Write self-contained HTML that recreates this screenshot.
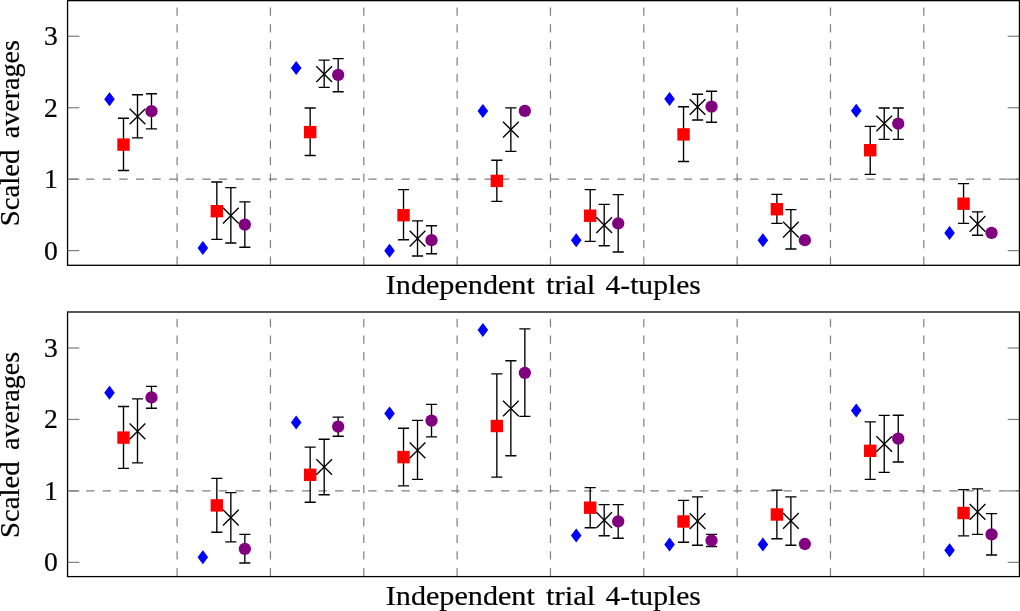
<!DOCTYPE html>
<html><head><meta charset="utf-8"><title>Scaled averages</title>
<style>
html,body{margin:0;padding:0;background:#fff;}
svg{display:block}
.t{font-family:"Liberation Serif",serif;font-size:27.67px;fill:#000;stroke:#000;stroke-width:0.2px}
</style></head><body>
<svg width="1020" height="611" viewBox="0 0 1020 611">
<rect width="1020" height="611" fill="#fff"/>
<g>
<line x1="177.1" y1="7.55" x2="177.1" y2="265.3" stroke="#7f7f7f" stroke-width="1.2" stroke-dasharray="8.3 8.3"/>
<line x1="270.44" y1="7.55" x2="270.44" y2="265.3" stroke="#7f7f7f" stroke-width="1.2" stroke-dasharray="8.3 8.3"/>
<line x1="363.78" y1="7.55" x2="363.78" y2="265.3" stroke="#7f7f7f" stroke-width="1.2" stroke-dasharray="8.3 8.3"/>
<line x1="457.12" y1="7.55" x2="457.12" y2="265.3" stroke="#7f7f7f" stroke-width="1.2" stroke-dasharray="8.3 8.3"/>
<line x1="550.46" y1="7.55" x2="550.46" y2="265.3" stroke="#7f7f7f" stroke-width="1.2" stroke-dasharray="8.3 8.3"/>
<line x1="643.8" y1="7.55" x2="643.8" y2="265.3" stroke="#7f7f7f" stroke-width="1.2" stroke-dasharray="8.3 8.3"/>
<line x1="737.14" y1="7.55" x2="737.14" y2="265.3" stroke="#7f7f7f" stroke-width="1.2" stroke-dasharray="8.3 8.3"/>
<line x1="830.48" y1="7.55" x2="830.48" y2="265.3" stroke="#7f7f7f" stroke-width="1.2" stroke-dasharray="8.3 8.3"/>
<line x1="923.82" y1="7.55" x2="923.82" y2="265.3" stroke="#7f7f7f" stroke-width="1.2" stroke-dasharray="8.3 8.3"/>
<line x1="69.5" y1="179.17" x2="1019.45" y2="179.17" stroke="#7f7f7f" stroke-width="1.2" stroke-dasharray="8.3 8.3"/>
<line x1="67.55" y1="250.62" x2="79.35" y2="250.62" stroke="#7f7f7f" stroke-width="1.2"/>
<line x1="1019.45" y1="250.62" x2="1007.65" y2="250.62" stroke="#7f7f7f" stroke-width="1.2"/>
<line x1="67.55" y1="179.17" x2="79.35" y2="179.17" stroke="#7f7f7f" stroke-width="1.2"/>
<line x1="1019.45" y1="179.17" x2="1007.65" y2="179.17" stroke="#7f7f7f" stroke-width="1.2"/>
<line x1="67.55" y1="107.72" x2="79.35" y2="107.72" stroke="#7f7f7f" stroke-width="1.2"/>
<line x1="1019.45" y1="107.72" x2="1007.65" y2="107.72" stroke="#7f7f7f" stroke-width="1.2"/>
<line x1="67.55" y1="36.27" x2="79.35" y2="36.27" stroke="#7f7f7f" stroke-width="1.2"/>
<line x1="1019.45" y1="36.27" x2="1007.65" y2="36.27" stroke="#7f7f7f" stroke-width="1.2"/>
<path d="M123.5 118.2V170.5M117.95 118.2h11.1M117.95 170.5h11.1" stroke="#000" stroke-width="1.35" fill="none"/>
<path d="M137.5 94.7V137.8M131.95 94.7h11.1M131.95 137.8h11.1" stroke="#000" stroke-width="1.35" fill="none"/>
<path d="M151.5 93.7V128.8M145.95 93.7h11.1M145.95 128.8h11.1" stroke="#000" stroke-width="1.35" fill="none"/>
<path d="M109.5 93.1l4.6 6.1l-4.6 6.1l-4.6 -6.1z" fill="#0000ff" stroke="#0000ff" stroke-width="1.1" stroke-linejoin="miter"/>
<rect x="117.3" y="138.4" width="12.4" height="12.4" fill="#ff0000"/>
<path d="M129.65 108.65L145.35 124.35M129.65 124.35L145.35 108.65" stroke="#000" stroke-width="1.35" fill="none"/>
<circle cx="151.5" cy="111.2" r="6.15" fill="#800080"/>
<path d="M216.84 182V239.4M211.29 182h11.1M211.29 239.4h11.1" stroke="#000" stroke-width="1.35" fill="none"/>
<path d="M230.84 187.6V243M225.29 187.6h11.1M225.29 243h11.1" stroke="#000" stroke-width="1.35" fill="none"/>
<path d="M244.84 201.9V247.2M239.29 201.9h11.1M239.29 247.2h11.1" stroke="#000" stroke-width="1.35" fill="none"/>
<path d="M202.84 241.9l4.6 6.1l-4.6 6.1l-4.6 -6.1z" fill="#0000ff" stroke="#0000ff" stroke-width="1.1" stroke-linejoin="miter"/>
<rect x="210.64" y="205" width="12.4" height="12.4" fill="#ff0000"/>
<path d="M222.99 207.75L238.69 223.45M222.99 223.45L238.69 207.75" stroke="#000" stroke-width="1.35" fill="none"/>
<circle cx="244.84" cy="224.6" r="6.15" fill="#800080"/>
<path d="M310.18 108V155.5M304.63 108h11.1M304.63 155.5h11.1" stroke="#000" stroke-width="1.35" fill="none"/>
<path d="M324.18 60.1V87.4M318.63 60.1h11.1M318.63 87.4h11.1" stroke="#000" stroke-width="1.35" fill="none"/>
<path d="M338.18 58.6V91.7M332.63 58.6h11.1M332.63 91.7h11.1" stroke="#000" stroke-width="1.35" fill="none"/>
<path d="M296.18 61.8l4.6 6.1l-4.6 6.1l-4.6 -6.1z" fill="#0000ff" stroke="#0000ff" stroke-width="1.1" stroke-linejoin="miter"/>
<rect x="303.98" y="125.9" width="12.4" height="12.4" fill="#ff0000"/>
<path d="M316.33 66.25L332.03 81.95M316.33 81.95L332.03 66.25" stroke="#000" stroke-width="1.35" fill="none"/>
<circle cx="338.18" cy="74.9" r="6.15" fill="#800080"/>
<path d="M403.52 189.6V239.7M397.97 189.6h11.1M397.97 239.7h11.1" stroke="#000" stroke-width="1.35" fill="none"/>
<path d="M417.52 220.9V256M411.97 220.9h11.1M411.97 256h11.1" stroke="#000" stroke-width="1.35" fill="none"/>
<path d="M431.52 225.7V253.7M425.97 225.7h11.1M425.97 253.7h11.1" stroke="#000" stroke-width="1.35" fill="none"/>
<path d="M389.52 244.6l4.6 6.1l-4.6 6.1l-4.6 -6.1z" fill="#0000ff" stroke="#0000ff" stroke-width="1.1" stroke-linejoin="miter"/>
<rect x="397.32" y="209" width="12.4" height="12.4" fill="#ff0000"/>
<path d="M409.67 230.85L425.37 246.55M409.67 246.55L425.37 230.85" stroke="#000" stroke-width="1.35" fill="none"/>
<circle cx="431.52" cy="240.2" r="6.15" fill="#800080"/>
<path d="M496.86 160.2V201.4M491.31 160.2h11.1M491.31 201.4h11.1" stroke="#000" stroke-width="1.35" fill="none"/>
<path d="M510.86 107.9V151.3M505.31 107.9h11.1M505.31 151.3h11.1" stroke="#000" stroke-width="1.35" fill="none"/>
<path d="M482.86 104.8l4.6 6.1l-4.6 6.1l-4.6 -6.1z" fill="#0000ff" stroke="#0000ff" stroke-width="1.1" stroke-linejoin="miter"/>
<rect x="490.66" y="174.7" width="12.4" height="12.4" fill="#ff0000"/>
<path d="M503.01 121.75L518.71 137.45M503.01 137.45L518.71 121.75" stroke="#000" stroke-width="1.35" fill="none"/>
<circle cx="524.86" cy="110.9" r="6.15" fill="#800080"/>
<path d="M590.2 189.6V241.4M584.65 189.6h11.1M584.65 241.4h11.1" stroke="#000" stroke-width="1.35" fill="none"/>
<path d="M604.2 204.4V245.7M598.65 204.4h11.1M598.65 245.7h11.1" stroke="#000" stroke-width="1.35" fill="none"/>
<path d="M618.2 194.6V252M612.65 194.6h11.1M612.65 252h11.1" stroke="#000" stroke-width="1.35" fill="none"/>
<path d="M576.2 234.1l4.6 6.1l-4.6 6.1l-4.6 -6.1z" fill="#0000ff" stroke="#0000ff" stroke-width="1.1" stroke-linejoin="miter"/>
<rect x="584" y="209.5" width="12.4" height="12.4" fill="#ff0000"/>
<path d="M596.35 217.35L612.05 233.05M596.35 233.05L612.05 217.35" stroke="#000" stroke-width="1.35" fill="none"/>
<circle cx="618.2" cy="223.4" r="6.15" fill="#800080"/>
<path d="M683.54 106.7V161.5M677.99 106.7h11.1M677.99 161.5h11.1" stroke="#000" stroke-width="1.35" fill="none"/>
<path d="M697.54 94.2V120M691.99 94.2h11.1M691.99 120h11.1" stroke="#000" stroke-width="1.35" fill="none"/>
<path d="M711.54 91.2V122.2M705.99 91.2h11.1M705.99 122.2h11.1" stroke="#000" stroke-width="1.35" fill="none"/>
<path d="M669.54 92.8l4.6 6.1l-4.6 6.1l-4.6 -6.1z" fill="#0000ff" stroke="#0000ff" stroke-width="1.1" stroke-linejoin="miter"/>
<rect x="677.34" y="128.2" width="12.4" height="12.4" fill="#ff0000"/>
<path d="M689.69 99.15L705.39 114.85M689.69 114.85L705.39 99.15" stroke="#000" stroke-width="1.35" fill="none"/>
<circle cx="711.54" cy="106.7" r="6.15" fill="#800080"/>
<path d="M776.88 194.3V223.4M771.33 194.3h11.1M771.33 223.4h11.1" stroke="#000" stroke-width="1.35" fill="none"/>
<path d="M790.88 209.6V249M785.33 209.6h11.1M785.33 249h11.1" stroke="#000" stroke-width="1.35" fill="none"/>
<path d="M762.88 234.1l4.6 6.1l-4.6 6.1l-4.6 -6.1z" fill="#0000ff" stroke="#0000ff" stroke-width="1.1" stroke-linejoin="miter"/>
<rect x="770.68" y="203" width="12.4" height="12.4" fill="#ff0000"/>
<path d="M783.03 221.85L798.73 237.55M783.03 237.55L798.73 221.85" stroke="#000" stroke-width="1.35" fill="none"/>
<circle cx="804.88" cy="240.2" r="6.15" fill="#800080"/>
<path d="M870.22 126.3V174.3M864.67 126.3h11.1M864.67 174.3h11.1" stroke="#000" stroke-width="1.35" fill="none"/>
<path d="M884.22 108V139.3M878.67 108h11.1M878.67 139.3h11.1" stroke="#000" stroke-width="1.35" fill="none"/>
<path d="M898.22 108V139.3M892.67 108h11.1M892.67 139.3h11.1" stroke="#000" stroke-width="1.35" fill="none"/>
<path d="M856.22 104.6l4.6 6.1l-4.6 6.1l-4.6 -6.1z" fill="#0000ff" stroke="#0000ff" stroke-width="1.1" stroke-linejoin="miter"/>
<rect x="864.02" y="144" width="12.4" height="12.4" fill="#ff0000"/>
<path d="M876.37 115.65L892.07 131.35M876.37 131.35L892.07 115.65" stroke="#000" stroke-width="1.35" fill="none"/>
<circle cx="898.22" cy="123.7" r="6.15" fill="#800080"/>
<path d="M963.56 183.6V223.4M958.01 183.6h11.1M958.01 223.4h11.1" stroke="#000" stroke-width="1.35" fill="none"/>
<path d="M977.56 211.9V235.2M972.01 211.9h11.1M972.01 235.2h11.1" stroke="#000" stroke-width="1.35" fill="none"/>
<path d="M949.56 226.8l4.6 6.1l-4.6 6.1l-4.6 -6.1z" fill="#0000ff" stroke="#0000ff" stroke-width="1.1" stroke-linejoin="miter"/>
<rect x="957.36" y="197.5" width="12.4" height="12.4" fill="#ff0000"/>
<path d="M969.71 216.05L985.41 231.75M969.71 231.75L985.41 216.05" stroke="#000" stroke-width="1.35" fill="none"/>
<circle cx="991.56" cy="232.9" r="6.15" fill="#800080"/>
<rect x="67.55" y="0.65" width="951.9" height="264.65" fill="none" stroke="#000" stroke-width="1.3"/>
<text x="57.8" y="259.62" text-anchor="end" class="t">0</text>
<text x="57.8" y="188.17" text-anchor="end" class="t">1</text>
<text x="57.8" y="116.72" text-anchor="end" class="t">2</text>
<text x="57.8" y="45.27" text-anchor="end" class="t">3</text>
<text transform="translate(19.3 226.3) rotate(-90)" class="t"><tspan x="0" textLength="76.6" lengthAdjust="spacingAndGlyphs">Scaled</tspan> <tspan x="88.1" textLength="98.2" lengthAdjust="spacingAndGlyphs">averages</tspan></text>
<text y="294.1" class="t"><tspan x="385.8" textLength="149" lengthAdjust="spacingAndGlyphs">Independent</tspan> <tspan x="546" textLength="49.4" lengthAdjust="spacingAndGlyphs">trial</tspan> <tspan x="605.5" textLength="95.3" lengthAdjust="spacingAndGlyphs">4-tuples</tspan></text>
</g>
<g>
<line x1="177.1" y1="318.9" x2="177.1" y2="576.6" stroke="#7f7f7f" stroke-width="1.2" stroke-dasharray="8.3 8.3"/>
<line x1="270.44" y1="318.9" x2="270.44" y2="576.6" stroke="#7f7f7f" stroke-width="1.2" stroke-dasharray="8.3 8.3"/>
<line x1="363.78" y1="318.9" x2="363.78" y2="576.6" stroke="#7f7f7f" stroke-width="1.2" stroke-dasharray="8.3 8.3"/>
<line x1="457.12" y1="318.9" x2="457.12" y2="576.6" stroke="#7f7f7f" stroke-width="1.2" stroke-dasharray="8.3 8.3"/>
<line x1="550.46" y1="318.9" x2="550.46" y2="576.6" stroke="#7f7f7f" stroke-width="1.2" stroke-dasharray="8.3 8.3"/>
<line x1="643.8" y1="318.9" x2="643.8" y2="576.6" stroke="#7f7f7f" stroke-width="1.2" stroke-dasharray="8.3 8.3"/>
<line x1="737.14" y1="318.9" x2="737.14" y2="576.6" stroke="#7f7f7f" stroke-width="1.2" stroke-dasharray="8.3 8.3"/>
<line x1="830.48" y1="318.9" x2="830.48" y2="576.6" stroke="#7f7f7f" stroke-width="1.2" stroke-dasharray="8.3 8.3"/>
<line x1="923.82" y1="318.9" x2="923.82" y2="576.6" stroke="#7f7f7f" stroke-width="1.2" stroke-dasharray="8.3 8.3"/>
<line x1="69.5" y1="490.9" x2="1019.45" y2="490.9" stroke="#7f7f7f" stroke-width="1.2" stroke-dasharray="8.3 8.3"/>
<line x1="67.55" y1="562.35" x2="79.35" y2="562.35" stroke="#7f7f7f" stroke-width="1.2"/>
<line x1="1019.45" y1="562.35" x2="1007.65" y2="562.35" stroke="#7f7f7f" stroke-width="1.2"/>
<line x1="67.55" y1="490.9" x2="79.35" y2="490.9" stroke="#7f7f7f" stroke-width="1.2"/>
<line x1="1019.45" y1="490.9" x2="1007.65" y2="490.9" stroke="#7f7f7f" stroke-width="1.2"/>
<line x1="67.55" y1="419.45" x2="79.35" y2="419.45" stroke="#7f7f7f" stroke-width="1.2"/>
<line x1="1019.45" y1="419.45" x2="1007.65" y2="419.45" stroke="#7f7f7f" stroke-width="1.2"/>
<line x1="67.55" y1="348" x2="79.35" y2="348" stroke="#7f7f7f" stroke-width="1.2"/>
<line x1="1019.45" y1="348" x2="1007.65" y2="348" stroke="#7f7f7f" stroke-width="1.2"/>
<path d="M123.5 406.5V468.3M117.95 406.5h11.1M117.95 468.3h11.1" stroke="#000" stroke-width="1.35" fill="none"/>
<path d="M137.5 398.9V462.8M131.95 398.9h11.1M131.95 462.8h11.1" stroke="#000" stroke-width="1.35" fill="none"/>
<path d="M151.5 386.4V408.2M145.95 386.4h11.1M145.95 408.2h11.1" stroke="#000" stroke-width="1.35" fill="none"/>
<path d="M109.5 386.6l4.6 6.1l-4.6 6.1l-4.6 -6.1z" fill="#0000ff" stroke="#0000ff" stroke-width="1.1" stroke-linejoin="miter"/>
<rect x="117.3" y="431.4" width="12.4" height="12.4" fill="#ff0000"/>
<path d="M129.65 423.45L145.35 439.15M129.65 439.15L145.35 423.45" stroke="#000" stroke-width="1.35" fill="none"/>
<circle cx="151.5" cy="397.4" r="6.15" fill="#800080"/>
<path d="M216.84 478.3V532.2M211.29 478.3h11.1M211.29 532.2h11.1" stroke="#000" stroke-width="1.35" fill="none"/>
<path d="M230.84 492.6V541.9M225.29 492.6h11.1M225.29 541.9h11.1" stroke="#000" stroke-width="1.35" fill="none"/>
<path d="M244.84 534.4V563M239.29 534.4h11.1M239.29 563h11.1" stroke="#000" stroke-width="1.35" fill="none"/>
<path d="M202.84 551.1l4.6 6.1l-4.6 6.1l-4.6 -6.1z" fill="#0000ff" stroke="#0000ff" stroke-width="1.1" stroke-linejoin="miter"/>
<rect x="210.64" y="499.2" width="12.4" height="12.4" fill="#ff0000"/>
<path d="M222.99 509.75L238.69 525.45M222.99 525.45L238.69 509.75" stroke="#000" stroke-width="1.35" fill="none"/>
<circle cx="244.84" cy="548.9" r="6.15" fill="#800080"/>
<path d="M310.18 447.1V502.2M304.63 447.1h11.1M304.63 502.2h11.1" stroke="#000" stroke-width="1.35" fill="none"/>
<path d="M324.18 439.2V494.7M318.63 439.2h11.1M318.63 494.7h11.1" stroke="#000" stroke-width="1.35" fill="none"/>
<path d="M338.18 417.1V436.2M332.63 417.1h11.1M332.63 436.2h11.1" stroke="#000" stroke-width="1.35" fill="none"/>
<path d="M296.18 416.3l4.6 6.1l-4.6 6.1l-4.6 -6.1z" fill="#0000ff" stroke="#0000ff" stroke-width="1.1" stroke-linejoin="miter"/>
<rect x="303.98" y="468.6" width="12.4" height="12.4" fill="#ff0000"/>
<path d="M316.33 459.15L332.03 474.85M316.33 474.85L332.03 459.15" stroke="#000" stroke-width="1.35" fill="none"/>
<circle cx="338.18" cy="426.6" r="6.15" fill="#800080"/>
<path d="M403.52 428.2V485.8M397.97 428.2h11.1M397.97 485.8h11.1" stroke="#000" stroke-width="1.35" fill="none"/>
<path d="M417.52 420.4V479.4M411.97 420.4h11.1M411.97 479.4h11.1" stroke="#000" stroke-width="1.35" fill="none"/>
<path d="M431.52 404.3V436.9M425.97 404.3h11.1M425.97 436.9h11.1" stroke="#000" stroke-width="1.35" fill="none"/>
<path d="M389.52 407.3l4.6 6.1l-4.6 6.1l-4.6 -6.1z" fill="#0000ff" stroke="#0000ff" stroke-width="1.1" stroke-linejoin="miter"/>
<rect x="397.32" y="450.9" width="12.4" height="12.4" fill="#ff0000"/>
<path d="M409.67 442.55L425.37 458.25M409.67 458.25L425.37 442.55" stroke="#000" stroke-width="1.35" fill="none"/>
<circle cx="431.52" cy="420.6" r="6.15" fill="#800080"/>
<path d="M496.86 373.9V477.1M491.31 373.9h11.1M491.31 477.1h11.1" stroke="#000" stroke-width="1.35" fill="none"/>
<path d="M510.86 360.7V455.7M505.31 360.7h11.1M505.31 455.7h11.1" stroke="#000" stroke-width="1.35" fill="none"/>
<path d="M524.86 328.9V416.4M519.31 328.9h11.1M519.31 416.4h11.1" stroke="#000" stroke-width="1.35" fill="none"/>
<path d="M482.86 323.9l4.6 6.1l-4.6 6.1l-4.6 -6.1z" fill="#0000ff" stroke="#0000ff" stroke-width="1.1" stroke-linejoin="miter"/>
<rect x="490.66" y="419.8" width="12.4" height="12.4" fill="#ff0000"/>
<path d="M503.01 400.65L518.71 416.35M503.01 416.35L518.71 400.65" stroke="#000" stroke-width="1.35" fill="none"/>
<circle cx="524.86" cy="372.8" r="6.15" fill="#800080"/>
<path d="M590.2 487.6V527.7M584.65 487.6h11.1M584.65 527.7h11.1" stroke="#000" stroke-width="1.35" fill="none"/>
<path d="M604.2 504.6V535.7M598.65 504.6h11.1M598.65 535.7h11.1" stroke="#000" stroke-width="1.35" fill="none"/>
<path d="M618.2 504.6V538.2M612.65 504.6h11.1M612.65 538.2h11.1" stroke="#000" stroke-width="1.35" fill="none"/>
<path d="M576.2 529.3l4.6 6.1l-4.6 6.1l-4.6 -6.1z" fill="#0000ff" stroke="#0000ff" stroke-width="1.1" stroke-linejoin="miter"/>
<rect x="584" y="501.5" width="12.4" height="12.4" fill="#ff0000"/>
<path d="M596.35 512.35L612.05 528.05M596.35 528.05L612.05 512.35" stroke="#000" stroke-width="1.35" fill="none"/>
<circle cx="618.2" cy="521.4" r="6.15" fill="#800080"/>
<path d="M683.54 500.4V542.2M677.99 500.4h11.1M677.99 542.2h11.1" stroke="#000" stroke-width="1.35" fill="none"/>
<path d="M697.54 496.9V545.2M691.99 496.9h11.1M691.99 545.2h11.1" stroke="#000" stroke-width="1.35" fill="none"/>
<path d="M711.54 534.4V546.5M705.99 534.4h11.1M705.99 546.5h11.1" stroke="#000" stroke-width="1.35" fill="none"/>
<path d="M669.54 538.4l4.6 6.1l-4.6 6.1l-4.6 -6.1z" fill="#0000ff" stroke="#0000ff" stroke-width="1.1" stroke-linejoin="miter"/>
<rect x="677.34" y="515.3" width="12.4" height="12.4" fill="#ff0000"/>
<path d="M689.69 513.35L705.39 529.05M689.69 529.05L705.39 513.35" stroke="#000" stroke-width="1.35" fill="none"/>
<circle cx="711.54" cy="540.5" r="6.15" fill="#800080"/>
<path d="M776.88 490.1V538.7M771.33 490.1h11.1M771.33 538.7h11.1" stroke="#000" stroke-width="1.35" fill="none"/>
<path d="M790.88 496.9V545.2M785.33 496.9h11.1M785.33 545.2h11.1" stroke="#000" stroke-width="1.35" fill="none"/>
<path d="M762.88 538.4l4.6 6.1l-4.6 6.1l-4.6 -6.1z" fill="#0000ff" stroke="#0000ff" stroke-width="1.1" stroke-linejoin="miter"/>
<rect x="770.68" y="508.3" width="12.4" height="12.4" fill="#ff0000"/>
<path d="M783.03 513.05L798.73 528.75M783.03 528.75L798.73 513.05" stroke="#000" stroke-width="1.35" fill="none"/>
<circle cx="804.88" cy="544" r="6.15" fill="#800080"/>
<path d="M870.22 421.9V479.3M864.67 421.9h11.1M864.67 479.3h11.1" stroke="#000" stroke-width="1.35" fill="none"/>
<path d="M884.22 415.4V472.3M878.67 415.4h11.1M878.67 472.3h11.1" stroke="#000" stroke-width="1.35" fill="none"/>
<path d="M898.22 415.2V462M892.67 415.2h11.1M892.67 462h11.1" stroke="#000" stroke-width="1.35" fill="none"/>
<path d="M856.22 404.3l4.6 6.1l-4.6 6.1l-4.6 -6.1z" fill="#0000ff" stroke="#0000ff" stroke-width="1.1" stroke-linejoin="miter"/>
<rect x="864.02" y="444.6" width="12.4" height="12.4" fill="#ff0000"/>
<path d="M876.37 436.15L892.07 451.85M876.37 451.85L892.07 436.15" stroke="#000" stroke-width="1.35" fill="none"/>
<circle cx="898.22" cy="438.7" r="6.15" fill="#800080"/>
<path d="M963.56 489.6V535.9M958.01 489.6h11.1M958.01 535.9h11.1" stroke="#000" stroke-width="1.35" fill="none"/>
<path d="M977.56 488.8V534.4M972.01 488.8h11.1M972.01 534.4h11.1" stroke="#000" stroke-width="1.35" fill="none"/>
<path d="M991.56 513.6V555M986.01 513.6h11.1M986.01 555h11.1" stroke="#000" stroke-width="1.35" fill="none"/>
<path d="M949.56 544.1l4.6 6.1l-4.6 6.1l-4.6 -6.1z" fill="#0000ff" stroke="#0000ff" stroke-width="1.1" stroke-linejoin="miter"/>
<rect x="957.36" y="506.8" width="12.4" height="12.4" fill="#ff0000"/>
<path d="M969.71 504.05L985.41 519.75M969.71 519.75L985.41 504.05" stroke="#000" stroke-width="1.35" fill="none"/>
<circle cx="991.56" cy="534.4" r="6.15" fill="#800080"/>
<rect x="67.55" y="312" width="951.9" height="264.6" fill="none" stroke="#000" stroke-width="1.3"/>
<text x="57.8" y="571.35" text-anchor="end" class="t">0</text>
<text x="57.8" y="499.9" text-anchor="end" class="t">1</text>
<text x="57.8" y="428.45" text-anchor="end" class="t">2</text>
<text x="57.8" y="357" text-anchor="end" class="t">3</text>
<text transform="translate(19.3 538.1) rotate(-90)" class="t"><tspan x="0" textLength="76.6" lengthAdjust="spacingAndGlyphs">Scaled</tspan> <tspan x="88.1" textLength="98.2" lengthAdjust="spacingAndGlyphs">averages</tspan></text>
<text y="605.4" class="t"><tspan x="385.8" textLength="149" lengthAdjust="spacingAndGlyphs">Independent</tspan> <tspan x="546" textLength="49.4" lengthAdjust="spacingAndGlyphs">trial</tspan> <tspan x="605.5" textLength="95.3" lengthAdjust="spacingAndGlyphs">4-tuples</tspan></text>
</g>
</svg>
</body></html>
